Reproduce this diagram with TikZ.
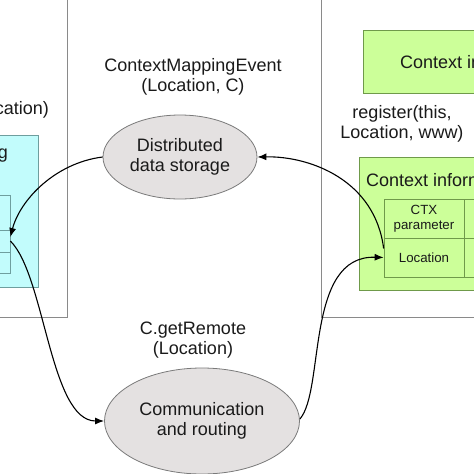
\documentclass[tikz,border=0pt]{standalone}
\usepackage{fontspec}
\setmainfont{Liberation Sans}
\usetikzlibrary{arrows.meta,shapes.geometric}
\definecolor{framegray}{HTML}{8A8A8A}
\definecolor{cyanfill}{HTML}{C2FCFC}
\definecolor{cyanline}{HTML}{6E9E9E}
\definecolor{greenfill}{HTML}{CCFF99}
\definecolor{greenline}{HTML}{6F9A4A}
\definecolor{ellfill}{HTML}{E4E1E1}
\definecolor{ellline}{HTML}{7A7A7A}
\definecolor{txt}{HTML}{1A1A1A}
\tikzset{
  frame/.style={draw=framegray, line width=0.9pt, fill=white, anchor=north west, inner sep=0pt},
  cyanbox/.style={draw=cyanline, line width=0.8pt, fill=cyanfill, anchor=north west, inner sep=0pt},
  greenbox/.style={draw=greenline, line width=0.8pt, fill=greenfill, anchor=north west, inner sep=0pt},
  cyancell/.style={draw=cyanline, line width=0.7pt, inner sep=0pt, text=txt, align=center, font=\fontsize{13.3}{15}\selectfont},
  greencell/.style={draw=greenline, line width=0.7pt, inner sep=0pt, text=txt, align=center, font=\fontsize{13.3}{15}\selectfont},
  ell/.style={ellipse, draw=ellline, line width=0.8pt, fill=ellfill, inner sep=0pt, text=txt, align=center, font=\fontsize{18}{20.5}\selectfont},
  lbl/.style={text=txt, align=center, inner sep=0pt, font=\fontsize{18}{20.5}\selectfont},
  conn/.style={line width=1.1pt, -{Latex[length=9pt,width=7pt]}},
}
\begin{document}
\begin{tikzpicture}[x=1pt,y=-1pt]
\useasboundingbox (0,0) rectangle (474,474);
\clip (0,0) rectangle (474,474);
% big frames
\node[frame, minimum width=167pt, minimum height=327pt] (lframe) at (-100,-10) {};
\node[frame, minimum width=220pt, minimum height=327pt] (rframe) at (321,-10) {};
% left side (cut off)
\node[lbl, anchor=east] (lcall) at (49,110) {(Location)};
\node[cyanbox, minimum width=138pt, minimum height=152pt] (cbox) at (-100,135) {};
\node[lbl, anchor=east] (ctitle) at (8,154) {Context mapping};
\node[cyancell, minimum width=60pt, minimum height=35pt] (lc1) at (-20,212.5) {};
\node[cyancell, minimum width=60pt, minimum height=22pt] (lc2) at (-20,241) {};
\node[cyancell, minimum width=60pt, minimum height=21pt] (lc3) at (-20,262.5) {};
% right side
\node[greenbox, minimum width=160pt, minimum height=63pt] (gb1) at (363,30) {};
\node[lbl, anchor=west] (gb1t) at (400,62) {Context information};
\node[lbl] (reg) at (402,124) {register(this,\\Location, www)};
\node[greenbox, minimum width=160pt, minimum height=133pt] (gb2) at (359,157) {};
\node[lbl, anchor=west] (gb2t) at (366,180) {Context information};
\node[greencell, minimum width=80pt, minimum height=39pt] (rc1) at (424,218.5) {CTX\\parameter};
\node[greencell, minimum width=80pt, minimum height=39pt] (rc2) at (424,257.5) {Location};
\node[greencell, minimum width=80pt, minimum height=39pt] (rc3) at (504,218.5) {};
\node[greencell, minimum width=80pt, minimum height=39pt] (rc4) at (504,257.5) {};
% middle
\node[lbl] (cme) at (193,77) {ContextMappingEvent\\(Location, C)};
\node[ell, minimum width=154pt, minimum height=84pt] (ds) at (180,157) {Distributed\\data storage};
\node[lbl] (gr) at (193,340) {C.getRemote\\(Location)};
\node[ell, minimum width=195pt, minimum height=106pt] (cr) at (202,421) {Communication\\and routing};
% connectors
\draw[conn] (ds.west) .. controls (55,163) and (20,200) .. ([yshift=4pt]lc2.east);
\draw[conn] (lc2.east) .. controls (45,275) and (50,421) .. (cr.west);
\draw[conn] ([yshift=2pt]cr.east) .. controls (325,390) and (305,255) .. (rc2.west);
\draw[conn] ([yshift=9pt]rc2.west) .. controls (375,180) and (310,156) .. (ds.east);
\end{tikzpicture}
\end{document}
